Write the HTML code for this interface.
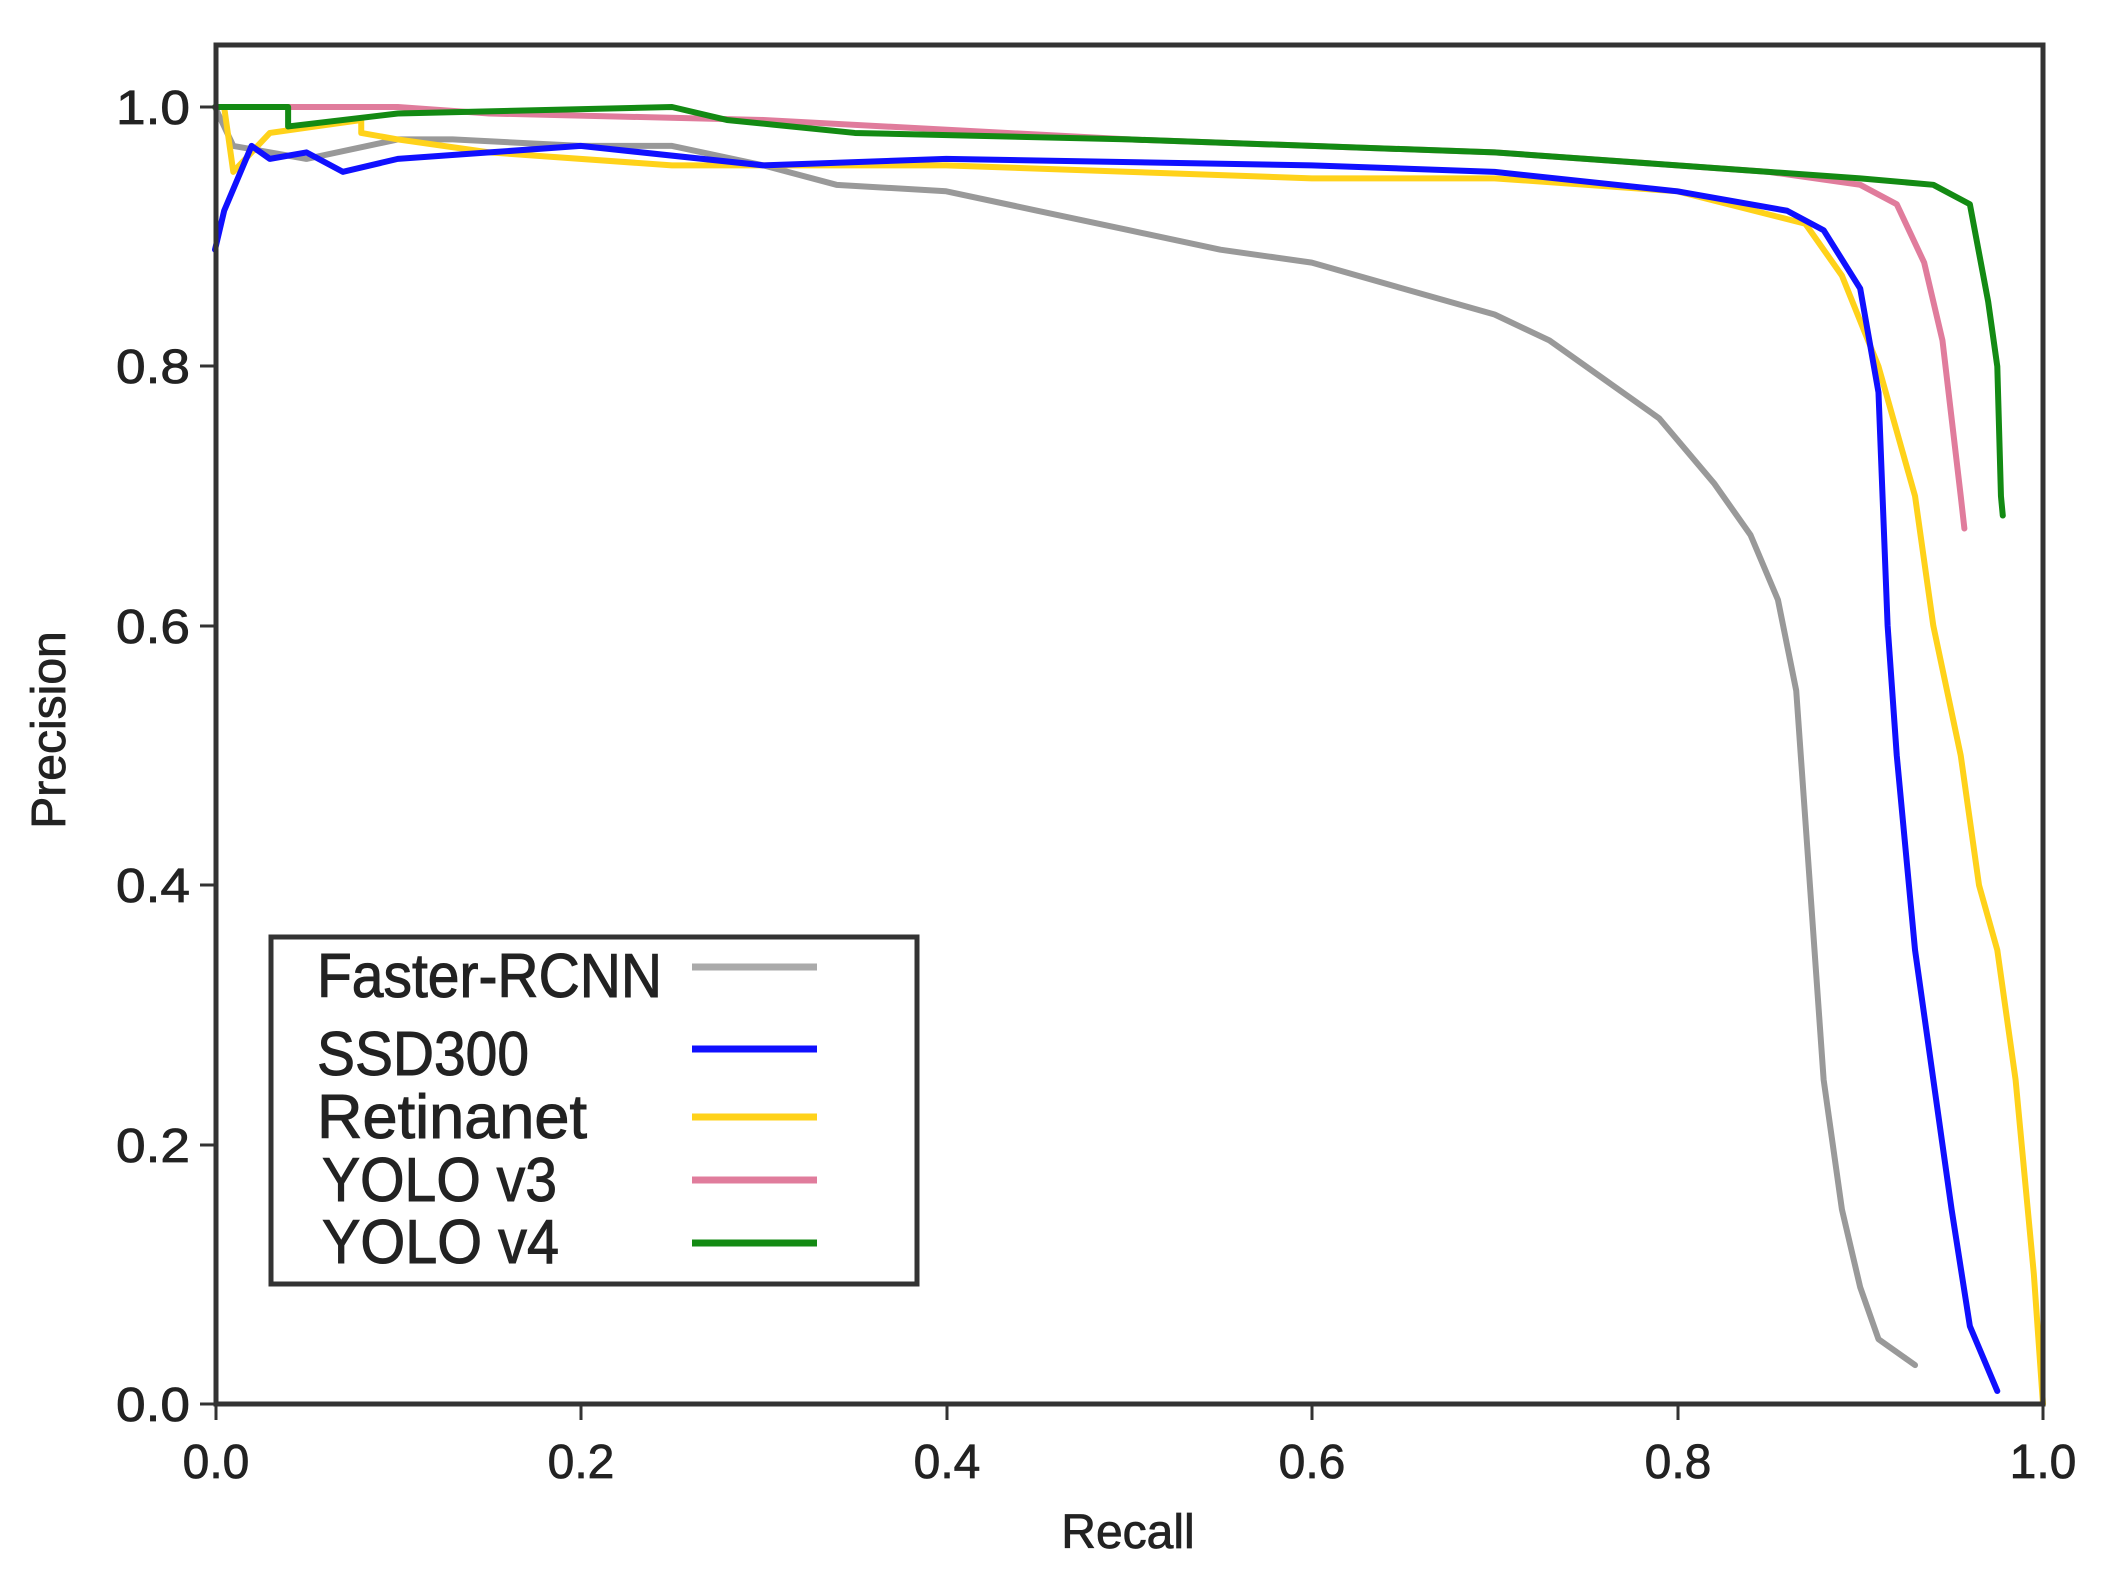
<!DOCTYPE html>
<html><head><meta charset="utf-8"><style>html,body{margin:0;padding:0;background:#fff}svg{display:block}</style></head>
<body>
<svg width="2103" height="1586" xmlns="http://www.w3.org/2000/svg" font-family="Liberation Sans, sans-serif" fill="#222">
<g transform="translate(215,1404) scale(1828,-1297)" fill="none" stroke-linejoin="round" stroke-linecap="round">
<polyline vector-effect="non-scaling-stroke" stroke="#999" stroke-width="6" points="0,1 0.01,0.97 0.05,0.96 0.1,0.975 0.13,0.975 0.2,0.97 0.25,0.97 0.3,0.955 0.34,0.94 0.4,0.935 0.45,0.92 0.5,0.905 0.55,0.89 0.6,0.88 0.65,0.86 0.7,0.84 0.73,0.82 0.76,0.79 0.79,0.76 0.82,0.71 0.84,0.67 0.855,0.62 0.865,0.55 0.87,0.45 0.875,0.35 0.88,0.25 0.89,0.15 0.9,0.09 0.91,0.05 0.93,0.03"/>
<polyline vector-effect="non-scaling-stroke" stroke="#ffd21a" stroke-width="6" points="0.005,1 0.01,0.95 0.03,0.98 0.08,0.99 0.08,0.98 0.1,0.975 0.15,0.965 0.25,0.955 0.4,0.955 0.6,0.945 0.7,0.945 0.8,0.935 0.87,0.91 0.89,0.87 0.91,0.8 0.93,0.7 0.94,0.6 0.955,0.5 0.965,0.4 0.975,0.35 0.985,0.25 0.995,0.1 1,0"/>
<polyline vector-effect="non-scaling-stroke" stroke="#1010ff" stroke-width="6" points="0,0.89 0.005,0.92 0.02,0.97 0.03,0.96 0.05,0.965 0.07,0.95 0.1,0.96 0.15,0.965 0.2,0.97 0.3,0.955 0.4,0.96 0.6,0.955 0.7,0.95 0.8,0.935 0.86,0.92 0.88,0.905 0.9,0.86 0.91,0.78 0.915,0.6 0.92,0.5 0.93,0.35 0.94,0.25 0.95,0.15 0.96,0.06 0.975,0.01"/>
<polyline vector-effect="non-scaling-stroke" stroke="#e07c9c" stroke-width="6" points="0,1 0.1,1 0.15,0.995 0.3,0.99 0.5,0.975 0.7,0.965 0.85,0.95 0.9,0.94 0.92,0.925 0.935,0.88 0.945,0.82 0.955,0.7 0.957,0.675"/>
<polyline vector-effect="non-scaling-stroke" stroke="#138a13" stroke-width="6" points="0,1 0.04,1 0.04,0.985 0.1,0.995 0.25,1 0.28,0.99 0.35,0.98 0.5,0.975 0.6,0.97 0.7,0.965 0.8,0.955 0.9,0.945 0.94,0.94 0.96,0.925 0.97,0.85 0.975,0.8 0.977,0.7 0.978,0.685"/>
</g>
<rect x="216" y="45" width="1827" height="1359" fill="none" stroke="#333" stroke-width="5"/>
<g stroke="#333" stroke-width="3">
<line x1="200" y1="107" x2="216" y2="107"/><line x1="200" y1="366" x2="216" y2="366"/><line x1="200" y1="626" x2="216" y2="626"/><line x1="200" y1="885" x2="216" y2="885"/><line x1="200" y1="1145" x2="216" y2="1145"/><line x1="200" y1="1404" x2="216" y2="1404"/>
<line x1="216" y1="1404" x2="216" y2="1420"/><line x1="581" y1="1404" x2="581" y2="1420"/><line x1="947" y1="1404" x2="947" y2="1420"/><line x1="1312" y1="1404" x2="1312" y2="1420"/><line x1="1678" y1="1404" x2="1678" y2="1420"/><line x1="2043" y1="1404" x2="2043" y2="1420"/>
</g>
<g font-size="48" text-anchor="end" stroke="#222" stroke-width="0.8">
<text x="190" y="124" textLength="74" lengthAdjust="spacingAndGlyphs">1.0</text>
<text x="190" y="383" textLength="74" lengthAdjust="spacingAndGlyphs">0.8</text>
<text x="190" y="643" textLength="74" lengthAdjust="spacingAndGlyphs">0.6</text>
<text x="190" y="902" textLength="74" lengthAdjust="spacingAndGlyphs">0.4</text>
<text x="190" y="1162" textLength="74" lengthAdjust="spacingAndGlyphs">0.2</text>
<text x="190" y="1421" textLength="74" lengthAdjust="spacingAndGlyphs">0.0</text>
</g>
<g font-size="48" text-anchor="middle" stroke="#222" stroke-width="0.8">
<text x="216" y="1478">0.0</text><text x="581" y="1478">0.2</text><text x="947" y="1478">0.4</text><text x="1312" y="1478">0.6</text><text x="1678" y="1478">0.8</text><text x="2043" y="1478">1.0</text>
<text x="1128" y="1548" font-size="48">Recall</text>
<text transform="translate(65,730) rotate(-90)" font-size="48">Precision</text>
</g>
<rect x="271" y="937" width="646" height="347" fill="#fff" stroke="#333" stroke-width="5"/>
<g font-size="62" stroke="#222" stroke-width="1">
<text x="317" y="997" textLength="345" lengthAdjust="spacingAndGlyphs">Faster-RCNN</text>
<text x="317" y="1075" textLength="212" lengthAdjust="spacingAndGlyphs">SSD300</text>
<text x="317" y="1138" textLength="270" lengthAdjust="spacingAndGlyphs">Retinanet</text>
<text x="322" y="1201" textLength="235" lengthAdjust="spacingAndGlyphs">YOLO v3</text>
<text x="322" y="1263" textLength="237" lengthAdjust="spacingAndGlyphs">YOLO v4</text>
</g>
<g stroke-width="7">
<line x1="692" y1="967" x2="817" y2="967" stroke="#aaa"/>
<line x1="692" y1="1049" x2="817" y2="1049" stroke="#1010ff"/>
<line x1="692" y1="1117" x2="817" y2="1117" stroke="#ffd21a"/>
<line x1="692" y1="1180" x2="817" y2="1180" stroke="#e07c9c"/>
<line x1="692" y1="1243" x2="817" y2="1243" stroke="#138a13"/>
</g>
</svg>
</body></html>
